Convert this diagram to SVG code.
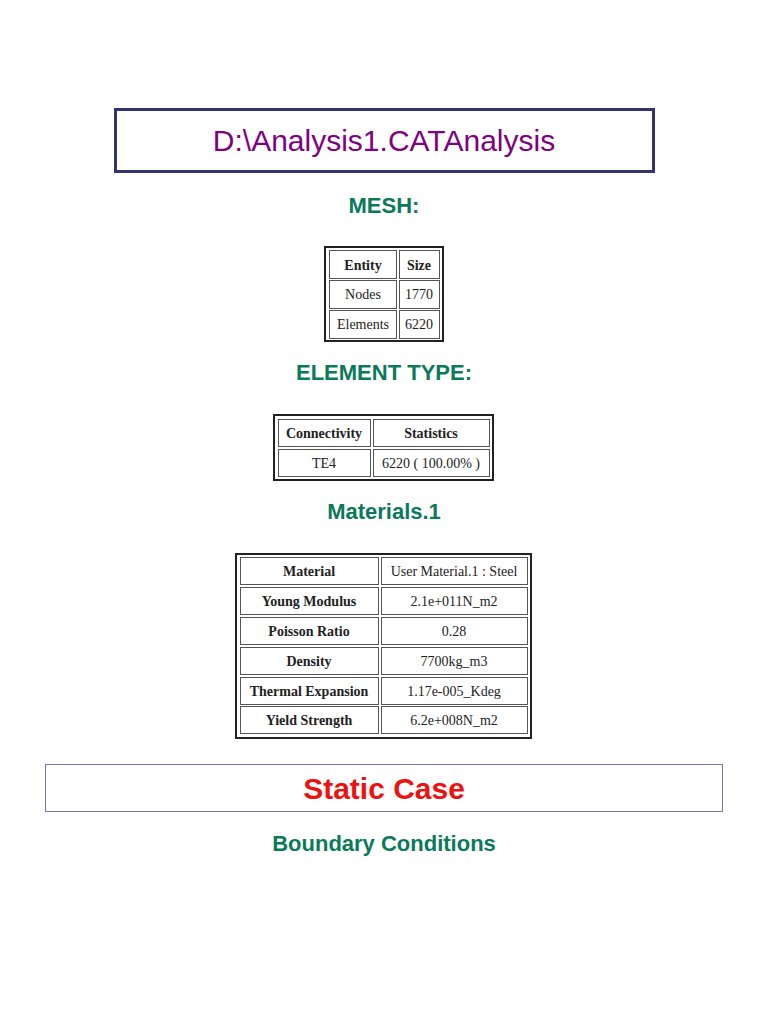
<svg xmlns="http://www.w3.org/2000/svg" width="768" height="1024" viewBox="0 0 768 1024">
<style>
.h{font-family:"Liberation Sans",Arial,sans-serif;font-weight:bold;fill:#0b7a5a;font-size:22px;text-anchor:middle}
.o{fill:none;stroke:#222;stroke-width:2}
.c{fill:#fff;stroke:#555;stroke-width:1}
.t{font-family:"Liberation Serif","Times New Roman",serif;font-size:14px;fill:#222;text-anchor:middle}
.b{font-weight:bold}
</style>
<rect width="768" height="1024" fill="#fff"/>
<g id="title">
<rect x="115.5" y="109.5" width="538" height="62" fill="#fff" stroke="#333370" stroke-width="3"/>
<text x="384" y="151" font-family="Liberation Sans,Arial,sans-serif" font-size="30" fill="#800080" text-anchor="middle">D:\Analysis1.CATAnalysis</text>
</g>
<text class="h" x="384" y="213">MESH:</text>
<g id="mesh">
<rect class="o" x="325" y="247" width="118" height="94"/>
<rect class="c" x="329.5" y="250.5" width="67" height="28"/><rect class="c" x="399.5" y="250.5" width="40" height="28"/>
<rect class="c" x="329.5" y="280.5" width="67" height="28"/><rect class="c" x="399.5" y="280.5" width="40" height="28"/>
<rect class="c" x="329.5" y="310.5" width="67" height="28"/><rect class="c" x="399.5" y="310.5" width="40" height="28"/>
<text class="t b" x="363" y="270">Entity</text><text class="t b" x="419" y="270">Size</text>
<text class="t" x="363" y="299">Nodes</text><text class="t" x="419" y="299">1770</text>
<text class="t" x="363" y="329">Elements</text><text class="t" x="419" y="329">6220</text>
</g>
<text class="h" x="384" y="380">ELEMENT TYPE:</text>
<g id="eltype">
<rect class="o" x="274" y="415" width="219" height="65"/>
<rect class="c" x="278.5" y="419.5" width="92" height="27"/><rect class="c" x="373.5" y="419.5" width="116" height="27"/>
<rect class="c" x="278.5" y="449.5" width="92" height="27"/><rect class="c" x="373.5" y="449.5" width="116" height="27"/>
<text class="t b" x="324" y="438">Connectivity</text><text class="t b" x="431" y="438">Statistics</text>
<text class="t" x="324" y="468">TE4</text><text class="t" x="431" y="468">6220 ( 100.00% )</text>
</g>
<text class="h" x="384" y="519">Materials.1</text>
<g id="materials">
<rect class="o" x="236" y="554" width="295" height="184"/>
<rect class="c" x="240.5" y="557.5" width="138" height="27"/><rect class="c" x="381.5" y="557.5" width="146" height="27"/>
<rect class="c" x="240.5" y="587.5" width="138" height="27"/><rect class="c" x="381.5" y="587.5" width="146" height="27"/>
<rect class="c" x="240.5" y="617.5" width="138" height="27"/><rect class="c" x="381.5" y="617.5" width="146" height="27"/>
<rect class="c" x="240.5" y="647.5" width="138" height="27"/><rect class="c" x="381.5" y="647.5" width="146" height="27"/>
<rect class="c" x="240.5" y="677.5" width="138" height="27"/><rect class="c" x="381.5" y="677.5" width="146" height="27"/>
<rect class="c" x="240.5" y="706.5" width="138" height="27"/><rect class="c" x="381.5" y="706.5" width="146" height="27"/>
<text class="t b" x="309" y="576">Material</text><text class="t" x="454" y="576">User Material.1 : Steel</text>
<text class="t b" x="309" y="606">Young Modulus</text><text class="t" x="454" y="606">2.1e+011N_m2</text>
<text class="t b" x="309" y="636">Poisson Ratio</text><text class="t" x="454" y="636">0.28</text>
<text class="t b" x="309" y="666">Density</text><text class="t" x="454" y="666">7700kg_m3</text>
<text class="t b" x="309" y="696">Thermal Expansion</text><text class="t" x="454" y="696">1.17e-005_Kdeg</text>
<text class="t b" x="309" y="725">Yield Strength</text><text class="t" x="454" y="725">6.2e+008N_m2</text>
</g>
<g id="static">
<rect x="45.5" y="764.5" width="677" height="47" fill="#fff" stroke="#7777aa" stroke-width="1"/>
<text x="384" y="799" font-family="Liberation Sans,Arial,sans-serif" font-weight="bold" font-size="30" fill="#ee1111" text-anchor="middle">Static Case</text>
</g>
<text class="h" x="384" y="851">Boundary Conditions</text>
</svg>
